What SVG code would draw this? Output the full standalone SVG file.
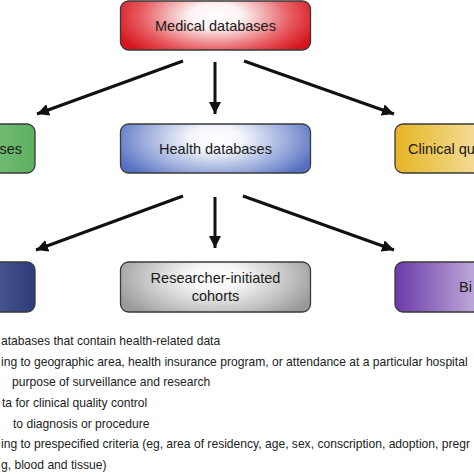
<svg xmlns="http://www.w3.org/2000/svg" width="474" height="474" viewBox="0 0 474 474">
<defs>
<radialGradient id="gRed" cx="0.5" cy="0.3" r="0.56" gradientTransform="translate(0.5,0.3) scale(1,1.8) translate(-0.5,-0.3)">
<stop offset="0" stop-color="#ffffff"/><stop offset="0.25" stop-color="#fdf2f2"/><stop offset="0.7" stop-color="#e75e63"/><stop offset="1" stop-color="#d6161e"/>
</radialGradient>
<radialGradient id="gBlue" cx="0.5" cy="0.3" r="0.56" gradientTransform="translate(0.5,0.3) scale(1,1.8) translate(-0.5,-0.3)">
<stop offset="0" stop-color="#ffffff"/><stop offset="0.25" stop-color="#f4f6fc"/><stop offset="0.7" stop-color="#97a8da"/><stop offset="1" stop-color="#5570c0"/>
</radialGradient>
<radialGradient id="gGray" cx="0.5" cy="0.3" r="0.56" gradientTransform="translate(0.5,0.3) scale(1,1.8) translate(-0.5,-0.3)">
<stop offset="0" stop-color="#ffffff"/><stop offset="0.25" stop-color="#f7f7f7"/><stop offset="0.7" stop-color="#c2c2c2"/><stop offset="1" stop-color="#999999"/>
</radialGradient>
<linearGradient id="gGreen" x1="0" y1="0" x2="1" y2="0">
<stop offset="0" stop-color="#c4e4c4"/><stop offset="1" stop-color="#5cb060"/>
</linearGradient>
<linearGradient id="gNavy" x1="0" y1="0" x2="1" y2="0">
<stop offset="0" stop-color="#b8c2e0"/><stop offset="1" stop-color="#2c3a78"/>
</linearGradient>
<linearGradient id="gGold" x1="0" y1="0" x2="1" y2="0">
<stop offset="0" stop-color="#e6b422"/><stop offset="0.8" stop-color="#ffffff"/>
</linearGradient>
<linearGradient id="gPurple" x1="0" y1="0" x2="1" y2="0">
<stop offset="0" stop-color="#6a3aa8"/><stop offset="0.75" stop-color="#ffffff"/>
</linearGradient>
<marker id="ah" markerUnits="userSpaceOnUse" markerWidth="14" markerHeight="12" refX="12" refY="6" orient="auto">
<path d="M0,0 L12,6 L0,12 Z" fill="#111"/>
</marker>
</defs>
<style>
.box{stroke:#3a3a3a;stroke-width:1.3}
.lbl{font-family:"Liberation Sans",Arial,sans-serif;font-size:14.5px;fill:#1a1a1a}
.note{font-family:"Liberation Sans",Arial,sans-serif;font-size:12.1px;fill:#222}
.arr{stroke:#111;stroke-width:3;fill:none;marker-end:url(#ah)}
</style>
<g id="connectors">
<line class="arr" x1="183" y1="61" x2="37" y2="114"/>
<line class="arr" x1="215" y1="62" x2="215" y2="114"/>
<line class="arr" x1="244" y1="61" x2="394" y2="114"/>
<line class="arr" x1="183" y1="196" x2="36" y2="250"/>
<line class="arr" x1="215" y1="197" x2="215" y2="248"/>
<line class="arr" x1="243" y1="196" x2="394" y2="250"/>
</g>
<g id="medical">
<rect class="box" x="120.5" y="1" width="190" height="49" rx="8" fill="url(#gRed)"/>
<text class="lbl" x="215.5" y="31" text-anchor="middle">Medical databases</text>
</g>
<g id="admin">
<rect class="box" x="-155" y="124" width="190" height="49" rx="8" fill="url(#gGreen)"/>
<text class="lbl" x="22" y="154" text-anchor="end">ses</text>
</g>
<g id="health">
<rect class="box" x="120.5" y="124" width="190" height="49" rx="8" fill="url(#gBlue)"/>
<text class="lbl" x="215.5" y="154" text-anchor="middle">Health databases</text>
</g>
<g id="clinical">
<rect class="box" x="395" y="124" width="190" height="49" rx="8" fill="url(#gGold)"/>
<text class="lbl" x="408" y="154">Clinical qu</text>
</g>
<g id="registries">
<rect class="box" x="-155" y="262" width="190" height="50" rx="8" fill="url(#gNavy)"/>
</g>
<g id="cohorts">
<rect class="box" x="120.5" y="262" width="190" height="50" rx="8" fill="url(#gGray)"/>
<text class="lbl" x="215.5" y="283" text-anchor="middle">Researcher-initiated</text>
<text class="lbl" x="215.5" y="301" text-anchor="middle">cohorts</text>
</g>
<g id="biobanks">
<rect class="box" x="395" y="262" width="190" height="50" rx="8" fill="url(#gPurple)"/>
<text class="lbl" x="459" y="292">Bi</text>
</g>
<g id="notes">
<text class="note" x="1" y="345">atabases that contain health-related data</text>
<text class="note" x="1" y="366">ing to geographic area, health insurance program, or attendance at a particular hospital</text>
<text class="note" x="12" y="386">purpose of surveillance and research</text>
<text class="note" x="2" y="407">ta for clinical quality control</text>
<text class="note" x="13" y="428">to diagnosis or procedure</text>
<text class="note" x="1" y="448">ing to prespecified criteria (eg, area of residency, age, sex, conscription, adoption, pregr</text>
<text class="note" x="1" y="469">g, blood and tissue)</text>
</g>
</svg>
